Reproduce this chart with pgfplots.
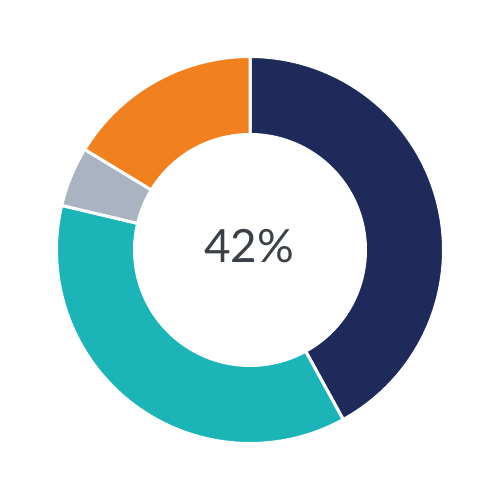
\documentclass[border=0pt]{standalone}
\usepackage{fontspec}
\setmainfont{Lato}
\usepackage{pgfplots}
\pgfplotsset{compat=1.18}

\definecolor{navy}{HTML}{1E2B5A}
\definecolor{teal}{HTML}{1BB4B7}
\definecolor{slate}{HTML}{A9B3C1}
\definecolor{orange}{HTML}{F1801F}
\definecolor{txt}{HTML}{3A4045}

% one slice of the ring, from share #1 to share #2 (percent, clockwise from top)
\newcommand{\slice}[3]{%
  \addplot[fill=#3, draw=white, line width=3bp, line join=miter,
    domain=#1:#2, samples=120, variable=\t]
    ({250+193.5*sin(3.6*\t)}, {250+193.5*cos(3.6*\t)}) -- (axis cs:250,250) -- cycle;
}

\begin{document}
\begin{tikzpicture}
\begin{axis}[
    name=donut,
    hide axis,
    scale only axis,
    width=500bp, height=500bp,
    xmin=0, xmax=500, ymin=0, ymax=500,
    clip=false,
  ]
  % shares: 42, 36.7, 5, 16.3
  \slice{0}{42}{navy}
  \slice{42}{78.7}{teal}
  \slice{78.7}{83.7}{slate}
  \slice{83.7}{100}{orange}
  % hole
  \addplot[fill=white, draw=none, domain=0:360, samples=180, variable=\t]
    ({250+117*cos(\t)}, {250+117*sin(\t)}) -- cycle;
  \node[anchor=base, text=txt, font=\fontsize{46}{46}\selectfont]
    at (axis cs:249,237) {42\%};
\end{axis}
\pgfresetboundingbox
\path[use as bounding box] (donut.south west) rectangle (donut.north east);
\end{tikzpicture}
\end{document}
